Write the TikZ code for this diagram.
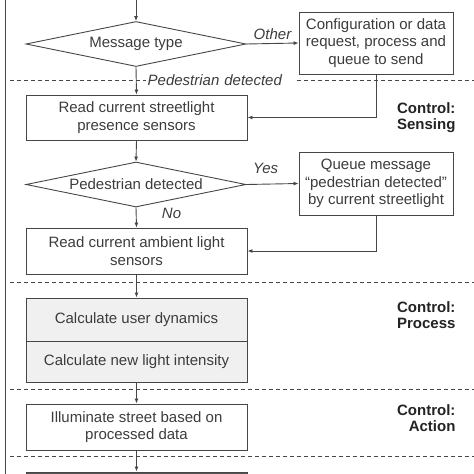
\documentclass[tikz,border=0pt]{standalone}
\usepackage{fontspec}
\setmainfont{Liberation Sans}
\usetikzlibrary{shapes.geometric,arrows.meta}
\definecolor{linegray}{RGB}{70,70,70}
\definecolor{textgray}{RGB}{60,60,60}
\definecolor{labelgray}{RGB}{35,35,35}
\definecolor{processgray}{RGB}{239,240,239}
\definecolor{commgray}{RGB}{85,85,85}

\begin{document}
\begin{tikzpicture}[x=1pt,y=-1pt,
    every node/.style={font=\fontsize{15}{17.5}\selectfont,text=textgray},
    stepbox/.style={draw=linegray,line width=0.9pt,minimum width=221pt,align=center,inner sep=2pt},
    sidebox/.style={draw=linegray,line width=0.9pt,minimum width=154pt,align=center,inner sep=2pt},
    decision/.style={diamond,draw=linegray,line width=0.9pt,aspect=4.9,minimum width=220pt,minimum height=45pt,inner sep=0pt},
    flow/.style={draw=linegray,line width=0.9pt,-{Latex[length=5pt,width=4pt]}},
    wire/.style={draw=linegray,line width=0.9pt},
    branch/.style={font=\fontsize{15}{17.5}\selectfont\itshape},
    stage/.style={font=\fontsize{15}{16}\selectfont\bfseries,text=labelgray,align=right,anchor=east},
    divider/.style={draw=linegray,line width=0.7pt,dash pattern=on 4pt off 3pt}]
    \useasboundingbox (0,0) rectangle (474,474);
    \clip (0,0) rectangle (474,474);

    % Section dividers
    \draw[divider] (10,80) -- (474,80);
    \draw[divider] (10,282) -- (474,282);
    \draw[divider] (10,389) -- (474,389);
    \draw[divider] (10,456) -- (474,456);

    % Loop back on the left
    \coordinate (looptop) at (5,-5);
    \coordinate (loopbot) at (5,480);
    \draw[wire] (looptop) -- (loopbot);

    % Message type
    \coordinate (entry) at (136,-5);
    \node[decision] (msgtype) at (136,44) {Message type};
    \node[sidebox,minimum height=62pt] (config) at (376,43) {Configuration or data\\request, process and\\queue to send};

    % Control: Sensing
    \node[stepbox,minimum height=45pt] (presence) at (136.5,117.5) {Read current streetlight\\presence sensors};
    \node[decision] (pedestrian) at (136,184.5) {Pedestrian detected};
    \node[sidebox,minimum height=63pt] (queue) at (376,183.5) {Queue message\\“pedestrian detected”\\by current streetlight};
    \node[stepbox,minimum height=46pt] (ambient) at (136.5,251) {Read current ambient light\\sensors};
    \node[stage] (sensing) at (459,117.5) {Control:\\Sensing};

    % Control: Process
    \node[stepbox,fill=processgray,minimum height=43pt] (dynamics) at (136.5,319.5) {Calculate user dynamics};
    \node[stepbox,fill=processgray,minimum height=41pt] (intensity) at (136.5,361.5) {Calculate new light intensity};
    \node[stage] (process) at (459,315) {Control:\\Process};

    % Control: Action
    \node[stepbox,minimum height=46pt] (illuminate) at (136.5,427) {Illuminate street based on\\processed data};
    \node[stage] (action) at (459,418) {Control:\\Action};

    % Communications
    \node[stepbox,fill=commgray,minimum height=46pt] (send) at (136.5,495) {};
    \node[stage] (comms) at (459,481) {Communications:};

    % Connectors
    \draw[flow] (entry) -- (msgtype.north);
    \draw[flow] (msgtype.east) -- node[branch,above,pos=0.5] {Other} (config.west);
    \draw[flow] (msgtype.south) -- node[branch,right=9pt,pos=0.48,fill=white,text width=146pt,align=left,inner sep=2pt] {Pedestrian detected} (presence.north);
    \draw[flow] (config.south) |- (presence.east);
    \draw[flow] (presence.south) -- (pedestrian.north);
    \draw[flow] (pedestrian.east) -- node[branch,above=7pt,pos=0.37] {Yes} (queue.west);
    \draw[flow] (pedestrian.south) -- node[branch,right=22pt,pos=0.3] {No} (ambient.north);
    \draw[flow] (queue.south) |- (ambient.east);
    \draw[flow] (ambient.south) -- (dynamics.north);
    \draw[flow] (intensity.south) -- (illuminate.north);
    \draw[flow] (illuminate.south) -- (send.north);
\end{tikzpicture}
\end{document}
